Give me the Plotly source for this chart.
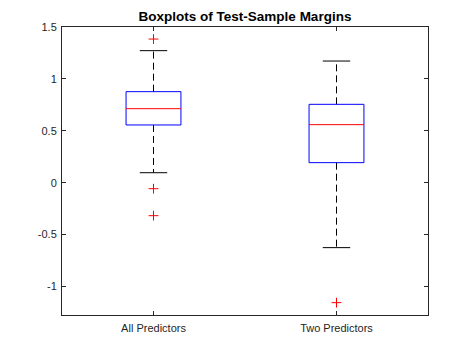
import plotly.graph_objects as go

categories = ["All Predictors", "Two Predictors"]
q1 = [0.556, 0.193]
medians = [0.713, 0.559]
q3 = [0.877, 0.755]
lower_whisker = [0.096, -0.626]
upper_whisker = [1.272, 1.172]
outliers = [[1.384, -0.058, -0.318], [-1.156]]

positions = [1, 2]
box_half = 0.15
cap_half = 0.075

fig = go.Figure()
for i, pos in enumerate(positions):
    # whiskers (dashed)
    fig.add_trace(go.Scatter(
        x=[pos, pos, None, pos, pos],
        y=[q3[i], upper_whisker[i], None, q1[i], lower_whisker[i]],
        mode="lines", line=dict(color="black", width=1, dash="7px,4px"),
        hoverinfo="skip", showlegend=False))
    # caps
    fig.add_trace(go.Scatter(
        x=[pos - cap_half, pos + cap_half, None, pos - cap_half, pos + cap_half],
        y=[upper_whisker[i], upper_whisker[i], None, lower_whisker[i], lower_whisker[i]],
        mode="lines", line=dict(color="black", width=1),
        hoverinfo="skip", showlegend=False))
    # box
    fig.add_trace(go.Scatter(
        x=[pos - box_half, pos + box_half, pos + box_half, pos - box_half, pos - box_half],
        y=[q1[i], q1[i], q3[i], q3[i], q1[i]],
        mode="lines", line=dict(color="#0000FF", width=1),
        hoverinfo="skip", showlegend=False))
    # median
    fig.add_trace(go.Scatter(
        x=[pos - box_half, pos + box_half],
        y=[medians[i], medians[i]],
        mode="lines", line=dict(color="#FF0000", width=1),
        hoverinfo="skip", showlegend=False))
    # outliers
    fig.add_trace(go.Scatter(
        x=[pos] * len(outliers[i]), y=outliers[i],
        mode="markers",
        marker=dict(symbol="cross-thin-open", size=7, color="#FF0000",
                    line=dict(color="#FF0000", width=1)),
        hoverinfo="skip", showlegend=False))

axis_color = "#262626"
fig.update_layout(
    width=474, height=355,
    margin=dict(l=54, r=54, t=19, b=48),
    paper_bgcolor="white", plot_bgcolor="white",
    font=dict(family="Liberation Sans, Arial, sans-serif", size=11, color=axis_color),
    title=dict(text="<b>Boxplots of Test-Sample Margins</b>",
               x=0.5, xanchor="center",
               y=1 - 8.5 / 355, yanchor="middle", yref="container",
               font=dict(size=13.5, color="black")),
    xaxis=dict(range=[0.5, 2.5], tickmode="array", tickvals=positions, ticktext=categories,
               showgrid=False, zeroline=False, showline=True, linecolor=axis_color, linewidth=1,
               mirror="ticks", ticks="inside", ticklen=4, tickcolor=axis_color,
               ticklabelstandoff=3),
    yaxis=dict(range=[-1.275, 1.5], tickmode="array",
               tickvals=[-1, -0.5, 0, 0.5, 1, 1.5],
               ticktext=["-1", "-0.5", "0", "0.5", "1", "1.5"],
               showgrid=False, zeroline=False, showline=True, linecolor=axis_color, linewidth=1,
               mirror="ticks", ticks="inside", ticklen=4, tickcolor=axis_color,
               ticklabelstandoff=2),
)

fig.write_html("out.html")
